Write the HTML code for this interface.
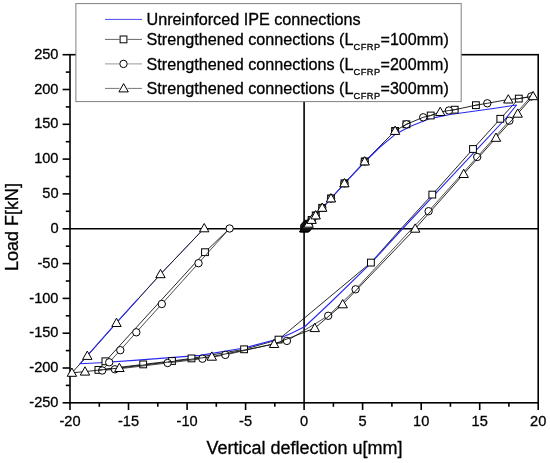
<!DOCTYPE html>
<html><head><meta charset="utf-8"><title>Load-deflection hysteresis</title>
<style>html,body{margin:0;padding:0;background:#fff}body{width:550px;height:463px;overflow:hidden}svg{display:block}text{font-family:"Liberation Sans",sans-serif;fill:#000;stroke:#000;stroke-width:0.3px}</style></head><body>
<svg width="550" height="463" viewBox="0 0 550 463">
<rect width="550" height="463" fill="#fff"/>
<g stroke="#000" stroke-width="1.6" fill="none">
<rect x="70.0" y="54.7" width="468.2" height="348.1"/>
<line x1="70.0" y1="228.8" x2="538.2" y2="228.8"/>
<line x1="304.1" y1="54.7" x2="304.1" y2="402.8"/>
<line x1="62.6" y1="54.7" x2="70.0" y2="54.7"/>
<line x1="65.8" y1="72.1" x2="70.0" y2="72.1"/>
<line x1="62.6" y1="89.5" x2="70.0" y2="89.5"/>
<line x1="65.8" y1="106.9" x2="70.0" y2="106.9"/>
<line x1="62.6" y1="124.3" x2="70.0" y2="124.3"/>
<line x1="65.8" y1="141.7" x2="70.0" y2="141.7"/>
<line x1="62.6" y1="159.1" x2="70.0" y2="159.1"/>
<line x1="65.8" y1="176.5" x2="70.0" y2="176.5"/>
<line x1="62.6" y1="193.9" x2="70.0" y2="193.9"/>
<line x1="65.8" y1="211.3" x2="70.0" y2="211.3"/>
<line x1="62.6" y1="228.8" x2="70.0" y2="228.8"/>
<line x1="65.8" y1="246.2" x2="70.0" y2="246.2"/>
<line x1="62.6" y1="263.6" x2="70.0" y2="263.6"/>
<line x1="65.8" y1="281.0" x2="70.0" y2="281.0"/>
<line x1="62.6" y1="298.4" x2="70.0" y2="298.4"/>
<line x1="65.8" y1="315.8" x2="70.0" y2="315.8"/>
<line x1="62.6" y1="333.2" x2="70.0" y2="333.2"/>
<line x1="65.8" y1="350.6" x2="70.0" y2="350.6"/>
<line x1="62.6" y1="368.0" x2="70.0" y2="368.0"/>
<line x1="65.8" y1="385.4" x2="70.0" y2="385.4"/>
<line x1="62.6" y1="402.8" x2="70.0" y2="402.8"/>
<line x1="70.0" y1="402.8" x2="70.0" y2="410.0"/>
<line x1="99.3" y1="402.8" x2="99.3" y2="406.8"/>
<line x1="128.5" y1="402.8" x2="128.5" y2="410.0"/>
<line x1="157.8" y1="402.8" x2="157.8" y2="406.8"/>
<line x1="187.1" y1="402.8" x2="187.1" y2="410.0"/>
<line x1="216.3" y1="402.8" x2="216.3" y2="406.8"/>
<line x1="245.6" y1="402.8" x2="245.6" y2="410.0"/>
<line x1="274.8" y1="402.8" x2="274.8" y2="406.8"/>
<line x1="304.1" y1="402.8" x2="304.1" y2="410.0"/>
<line x1="333.4" y1="402.8" x2="333.4" y2="406.8"/>
<line x1="362.6" y1="402.8" x2="362.6" y2="410.0"/>
<line x1="391.9" y1="402.8" x2="391.9" y2="406.8"/>
<line x1="421.2" y1="402.8" x2="421.2" y2="410.0"/>
<line x1="450.4" y1="402.8" x2="450.4" y2="406.8"/>
<line x1="479.7" y1="402.8" x2="479.7" y2="410.0"/>
<line x1="508.9" y1="402.8" x2="508.9" y2="406.8"/>
<line x1="538.2" y1="402.8" x2="538.2" y2="410.0"/>
</g>
<g fill="none" stroke-linejoin="round">
<polyline points="138.0,298.9 160.5,274.2 204.2,228.3" stroke="#3030e0" stroke-width="0.75"/>
<polyline points="304.2,228.5 305.0,227.6 305.8,226.7 306.6,225.8 307.5,224.8 308.6,223.7 311.6,219.9 315.7,215.4 322.2,207.8 331.0,198.4 344.4,183.3 364.7,161.4 395.1,130.9 406.4,124.3 423.2,117.3 430.7,115.5 440.2,112.0 448.9,110.5 454.7,109.7 475.9,105.2 487.3,103.3 508.3,99.5 518.8,98.6 500.3,118.8 473.0,149.0 432.3,194.6 401.0,228.7 370.9,262.6 278.5,339.6 244.1,349.3 191.5,358.4 172.0,361.0 143.2,364.4 98.4,369.9 105.4,361.3 205.0,252.2 229.6,228.5" stroke="#111" stroke-width="0.9"/>
<polyline points="518.8,98.6 531.2,96.4 509.4,120.7 477.2,157.0 428.6,211.2 412.0,228.7 355.6,289.3 328.2,315.8 286.9,340.9 225.3,354.9 202.4,358.7 167.6,363.0 114.9,369.3 102.2,370.5 109.2,362.3 120.3,350.2 136.3,332.3 161.8,304.0 198.5,263.2 229.6,228.5" stroke="#3a3a3a" stroke-width="0.9"/>
<polyline points="518.8,98.6 533.1,96.2 517.7,113.7 496.0,137.8 463.7,174.0 415.2,228.7 342.7,304.3 314.8,328.1 274.1,344.0 211.8,356.7 119.4,368.0 85.0,371.6 71.9,372.8 87.3,355.9 116.5,323.0 160.5,274.2 204.2,228.3" stroke="#111" stroke-width="0.9"/>
<polyline points="304.2,228.5 308.6,223.9 315.7,215.6 331.0,198.6 344.4,183.6 364.7,162.0 380.0,147.0 395.0,134.6 410.0,126.5 430.0,118.6 450.0,114.5 470.0,111.8 495.0,108.2 516.6,105.0 505.3,119.0 477.2,149.2 434.4,194.9 402.3,229.0 371.5,262.6 330.0,303.0 305.0,326.5 292.0,333.0 278.0,339.0 244.0,348.0 200.0,355.4 134.0,360.4 100.0,362.8 79.9,363.8 87.5,355.3 116.5,322.7 138.0,298.9" stroke="#2828f0" stroke-width="1.1"/>
</g>
<defs><clipPath id="csq"><rect x="300.3" y="224.6" width="7.8" height="7.8"/><rect x="300.7" y="224.1" width="7.8" height="7.8"/><rect x="301.1" y="223.7" width="7.8" height="7.8"/><rect x="301.5" y="223.2" width="7.8" height="7.8"/><rect x="301.9" y="222.8" width="7.8" height="7.8"/><rect x="302.3" y="222.3" width="7.8" height="7.8"/><rect x="302.7" y="221.9" width="7.8" height="7.8"/><rect x="303.1" y="221.4" width="7.8" height="7.8"/><rect x="303.6" y="220.9" width="7.8" height="7.8"/><rect x="304.7" y="219.8" width="7.8" height="7.8"/><rect x="307.7" y="216.0" width="7.8" height="7.8"/><rect x="311.8" y="211.5" width="7.8" height="7.8"/><rect x="318.3" y="203.9" width="7.8" height="7.8"/><rect x="327.1" y="194.5" width="7.8" height="7.8"/><rect x="340.5" y="179.4" width="7.8" height="7.8"/><rect x="360.8" y="157.5" width="7.8" height="7.8"/><rect x="391.2" y="127.0" width="7.8" height="7.8"/><rect x="402.5" y="120.4" width="7.8" height="7.8"/><rect x="426.8" y="111.6" width="7.8" height="7.8"/><rect x="450.8" y="105.8" width="7.8" height="7.8"/><rect x="472.0" y="101.3" width="7.8" height="7.8"/><rect x="514.9" y="94.7" width="7.8" height="7.8"/><rect x="496.4" y="114.9" width="7.8" height="7.8"/><rect x="469.1" y="145.1" width="7.8" height="7.8"/><rect x="428.4" y="190.7" width="7.8" height="7.8"/><rect x="367.0" y="258.7" width="7.8" height="7.8"/><rect x="274.6" y="335.7" width="7.8" height="7.8"/><rect x="240.2" y="345.4" width="7.8" height="7.8"/><rect x="187.6" y="354.5" width="7.8" height="7.8"/><rect x="168.1" y="357.1" width="7.8" height="7.8"/><rect x="139.3" y="360.5" width="7.8" height="7.8"/><rect x="94.5" y="366.0" width="7.8" height="7.8"/><rect x="101.5" y="357.4" width="7.8" height="7.8"/><rect x="201.1" y="248.3" width="7.8" height="7.8"/></clipPath><clipPath id="cci"><circle cx="304.2" cy="228.5" r="4.2"/><circle cx="304.6" cy="228.0" r="4.2"/><circle cx="305.0" cy="227.6" r="4.2"/><circle cx="305.4" cy="227.1" r="4.2"/><circle cx="305.8" cy="226.7" r="4.2"/><circle cx="306.2" cy="226.2" r="4.2"/><circle cx="306.6" cy="225.8" r="4.2"/><circle cx="307.0" cy="225.3" r="4.2"/><circle cx="307.5" cy="224.8" r="4.2"/><circle cx="308.6" cy="223.7" r="4.2"/><circle cx="311.6" cy="219.9" r="4.2"/><circle cx="315.7" cy="215.4" r="4.2"/><circle cx="322.2" cy="207.8" r="4.2"/><circle cx="331.0" cy="198.4" r="4.2"/><circle cx="344.4" cy="183.3" r="4.2"/><circle cx="364.7" cy="161.4" r="4.2"/><circle cx="395.1" cy="130.9" r="4.2"/><circle cx="406.4" cy="124.3" r="4.2"/><circle cx="423.2" cy="117.3" r="4.2"/><circle cx="448.9" cy="110.5" r="4.2"/><circle cx="487.3" cy="103.3" r="4.2"/><circle cx="531.2" cy="96.4" r="4.2"/><circle cx="509.4" cy="120.7" r="4.2"/><circle cx="477.2" cy="157.0" r="4.2"/><circle cx="428.6" cy="211.2" r="4.2"/><circle cx="355.6" cy="289.3" r="4.2"/><circle cx="328.2" cy="315.8" r="4.2"/><circle cx="286.9" cy="340.9" r="4.2"/><circle cx="225.3" cy="354.9" r="4.2"/><circle cx="202.4" cy="358.7" r="4.2"/><circle cx="167.6" cy="363.0" r="4.2"/><circle cx="114.9" cy="369.3" r="4.2"/><circle cx="102.2" cy="370.5" r="4.2"/><circle cx="109.2" cy="362.3" r="4.2"/><circle cx="120.3" cy="350.2" r="4.2"/><circle cx="136.3" cy="332.3" r="4.2"/><circle cx="161.8" cy="304.0" r="4.2"/><circle cx="198.5" cy="263.2" r="4.2"/><circle cx="229.6" cy="228.5" r="4.2"/></clipPath></defs>
<g fill="#fff" stroke="#000" stroke-width="1">
<rect x="300.8" y="225.1" width="6.8" height="6.8"/>
<rect x="301.2" y="224.6" width="6.8" height="6.8"/>
<rect x="301.6" y="224.2" width="6.8" height="6.8"/>
<rect x="302.0" y="223.7" width="6.8" height="6.8"/>
<rect x="302.4" y="223.3" width="6.8" height="6.8"/>
<rect x="302.8" y="222.8" width="6.8" height="6.8"/>
<rect x="303.2" y="222.4" width="6.8" height="6.8"/>
<rect x="303.6" y="221.9" width="6.8" height="6.8"/>
<rect x="304.1" y="221.4" width="6.8" height="6.8"/>
<rect x="305.2" y="220.3" width="6.8" height="6.8"/>
<rect x="308.2" y="216.5" width="6.8" height="6.8"/>
<rect x="312.3" y="212.0" width="6.8" height="6.8"/>
<rect x="318.8" y="204.4" width="6.8" height="6.8"/>
<rect x="327.6" y="195.0" width="6.8" height="6.8"/>
<rect x="341.0" y="179.9" width="6.8" height="6.8"/>
<rect x="361.3" y="158.0" width="6.8" height="6.8"/>
<rect x="391.7" y="127.5" width="6.8" height="6.8"/>
<rect x="403.0" y="120.9" width="6.8" height="6.8"/>
<rect x="427.3" y="112.1" width="6.8" height="6.8"/>
<rect x="451.3" y="106.3" width="6.8" height="6.8"/>
<rect x="472.5" y="101.8" width="6.8" height="6.8"/>
<rect x="515.4" y="95.2" width="6.8" height="6.8"/>
<rect x="496.9" y="115.4" width="6.8" height="6.8"/>
<rect x="469.6" y="145.6" width="6.8" height="6.8"/>
<rect x="428.9" y="191.2" width="6.8" height="6.8"/>
<rect x="367.5" y="259.2" width="6.8" height="6.8"/>
<rect x="275.1" y="336.2" width="6.8" height="6.8"/>
<rect x="240.7" y="345.9" width="6.8" height="6.8"/>
<rect x="188.1" y="355.0" width="6.8" height="6.8"/>
<rect x="168.6" y="357.6" width="6.8" height="6.8"/>
<rect x="139.8" y="361.0" width="6.8" height="6.8"/>
<rect x="95.0" y="366.5" width="6.8" height="6.8"/>
<rect x="102.0" y="357.9" width="6.8" height="6.8"/>
<rect x="201.6" y="248.8" width="6.8" height="6.8"/>
</g>
<polyline points="304.2,228.5 305.0,227.6 305.8,226.7 306.6,225.8 307.5,224.8 308.6,223.7 311.6,219.9 315.7,215.4 322.2,207.8 331.0,198.4 344.4,183.3 364.7,161.4 395.1,130.9 406.4,124.3 423.2,117.3 430.7,115.5 440.2,112.0 448.9,110.5 454.7,109.7 475.9,105.2 487.3,103.3 508.3,99.5 518.8,98.6 531.2,96.4 509.4,120.7 477.2,157.0 428.6,211.2 412.0,228.7 355.6,289.3 328.2,315.8 286.9,340.9 225.3,354.9 202.4,358.7 167.6,363.0 114.9,369.3 102.2,370.5 109.2,362.3 120.3,350.2 136.3,332.3 161.8,304.0 198.5,263.2 229.6,228.5" fill="none" stroke="#3a3a3a" stroke-width="0.9" clip-path="url(#csq)"/>
<g fill="#fff" stroke="#000" stroke-width="1">
<circle cx="304.2" cy="228.5" r="3.7"/>
<circle cx="304.6" cy="228.0" r="3.7"/>
<circle cx="305.0" cy="227.6" r="3.7"/>
<circle cx="305.4" cy="227.1" r="3.7"/>
<circle cx="305.8" cy="226.7" r="3.7"/>
<circle cx="306.2" cy="226.2" r="3.7"/>
<circle cx="306.6" cy="225.8" r="3.7"/>
<circle cx="307.0" cy="225.3" r="3.7"/>
<circle cx="307.5" cy="224.8" r="3.7"/>
<circle cx="308.6" cy="223.7" r="3.7"/>
<circle cx="311.6" cy="219.9" r="3.7"/>
<circle cx="315.7" cy="215.4" r="3.7"/>
<circle cx="322.2" cy="207.8" r="3.7"/>
<circle cx="331.0" cy="198.4" r="3.7"/>
<circle cx="344.4" cy="183.3" r="3.7"/>
<circle cx="364.7" cy="161.4" r="3.7"/>
<circle cx="395.1" cy="130.9" r="3.7"/>
<circle cx="406.4" cy="124.3" r="3.7"/>
<circle cx="423.2" cy="117.3" r="3.7"/>
<circle cx="448.9" cy="110.5" r="3.7"/>
<circle cx="487.3" cy="103.3" r="3.7"/>
<circle cx="531.2" cy="96.4" r="3.7"/>
<circle cx="509.4" cy="120.7" r="3.7"/>
<circle cx="477.2" cy="157.0" r="3.7"/>
<circle cx="428.6" cy="211.2" r="3.7"/>
<circle cx="355.6" cy="289.3" r="3.7"/>
<circle cx="328.2" cy="315.8" r="3.7"/>
<circle cx="286.9" cy="340.9" r="3.7"/>
<circle cx="225.3" cy="354.9" r="3.7"/>
<circle cx="202.4" cy="358.7" r="3.7"/>
<circle cx="167.6" cy="363.0" r="3.7"/>
<circle cx="114.9" cy="369.3" r="3.7"/>
<circle cx="102.2" cy="370.5" r="3.7"/>
<circle cx="109.2" cy="362.3" r="3.7"/>
<circle cx="120.3" cy="350.2" r="3.7"/>
<circle cx="136.3" cy="332.3" r="3.7"/>
<circle cx="161.8" cy="304.0" r="3.7"/>
<circle cx="198.5" cy="263.2" r="3.7"/>
<circle cx="229.6" cy="228.5" r="3.7"/>
</g>
<polyline points="304.2,228.5 305.0,227.6 305.8,226.7 306.6,225.8 307.5,224.8 308.6,223.7 311.6,219.9 315.7,215.4 322.2,207.8 331.0,198.4 344.4,183.3 364.7,161.4 395.1,130.9 406.4,124.3 423.2,117.3 430.7,115.5 440.2,112.0 448.9,110.5 454.7,109.7 475.9,105.2 487.3,103.3 508.3,99.5 518.8,98.6 533.1,96.2 517.7,113.7 496.0,137.8 463.7,174.0 415.2,228.7 342.7,304.3 314.8,328.1 274.1,344.0 211.8,356.7 119.4,368.0 85.0,371.6 71.9,372.8 87.3,355.9 116.5,323.0 160.5,274.2 204.2,228.3" fill="none" stroke="#111" stroke-width="0.9" clip-path="url(#csq)"/>
<polyline points="304.2,228.5 305.0,227.6 305.8,226.7 306.6,225.8 307.5,224.8 308.6,223.7 311.6,219.9 315.7,215.4 322.2,207.8 331.0,198.4 344.4,183.3 364.7,161.4 395.1,130.9 406.4,124.3 423.2,117.3 430.7,115.5 440.2,112.0 448.9,110.5 454.7,109.7 475.9,105.2 487.3,103.3 508.3,99.5 518.8,98.6 533.1,96.2 517.7,113.7 496.0,137.8 463.7,174.0 415.2,228.7 342.7,304.3 314.8,328.1 274.1,344.0 211.8,356.7 119.4,368.0 85.0,371.6 71.9,372.8 87.3,355.9 116.5,323.0 160.5,274.2 204.2,228.3" fill="none" stroke="#111" stroke-width="0.9" clip-path="url(#cci)"/>
<g fill="#fff" stroke="#000" stroke-width="1">
<polygon points="304.2,223.7 308.9,232.0 299.5,232.0"/>
<polygon points="304.6,223.2 309.3,231.5 299.9,231.5"/>
<polygon points="305.0,222.8 309.7,231.1 300.3,231.1"/>
<polygon points="305.4,222.3 310.1,230.6 300.7,230.6"/>
<polygon points="305.8,221.9 310.5,230.2 301.1,230.2"/>
<polygon points="306.2,221.4 310.9,229.7 301.5,229.7"/>
<polygon points="306.6,221.0 311.3,229.3 301.9,229.3"/>
<polygon points="307.0,220.5 311.7,228.8 302.3,228.8"/>
<polygon points="307.5,220.0 312.2,228.3 302.8,228.3"/>
<polygon points="308.6,218.9 313.3,227.2 303.9,227.2"/>
<polygon points="311.6,215.1 316.3,223.4 306.9,223.4"/>
<polygon points="315.7,210.6 320.4,218.9 311.0,218.9"/>
<polygon points="322.2,203.0 326.9,211.3 317.5,211.3"/>
<polygon points="331.0,193.6 335.7,201.9 326.3,201.9"/>
<polygon points="344.4,178.5 349.1,186.8 339.7,186.8"/>
<polygon points="364.7,156.6 369.4,164.9 360.0,164.9"/>
<polygon points="395.1,126.1 399.8,134.4 390.4,134.4"/>
<polygon points="440.2,107.2 444.9,115.5 435.5,115.5"/>
<polygon points="508.3,94.7 513.0,103.0 503.6,103.0"/>
<polygon points="533.1,91.4 537.8,99.7 528.4,99.7"/>
<polygon points="517.7,108.9 522.4,117.2 513.0,117.2"/>
<polygon points="496.0,133.0 500.7,141.3 491.3,141.3"/>
<polygon points="463.7,169.2 468.4,177.5 459.0,177.5"/>
<polygon points="415.2,223.9 419.9,232.2 410.5,232.2"/>
<polygon points="342.7,299.5 347.4,307.8 338.0,307.8"/>
<polygon points="314.8,323.3 319.5,331.6 310.1,331.6"/>
<polygon points="274.1,339.2 278.8,347.5 269.4,347.5"/>
<polygon points="211.8,351.9 216.5,360.2 207.1,360.2"/>
<polygon points="119.4,363.2 124.1,371.5 114.7,371.5"/>
<polygon points="85.0,366.8 89.7,375.1 80.3,375.1"/>
<polygon points="71.9,368.0 76.6,376.3 67.2,376.3"/>
<polygon points="87.3,351.1 92.0,359.4 82.6,359.4"/>
<polygon points="116.5,318.2 121.2,326.5 111.8,326.5"/>
<polygon points="160.5,269.4 165.2,277.7 155.8,277.7"/>
<polygon points="204.2,223.5 208.9,231.8 199.5,231.8"/>
</g>
<g font-size="14.6">
<text x="58.5" y="58.8" text-anchor="end">250</text>
<text x="58.5" y="93.6" text-anchor="end">200</text>
<text x="58.5" y="128.4" text-anchor="end">150</text>
<text x="58.5" y="163.2" text-anchor="end">100</text>
<text x="58.5" y="198.0" text-anchor="end">50</text>
<text x="58.5" y="232.8" text-anchor="end">0</text>
<text x="58.5" y="267.7" text-anchor="end">-50</text>
<text x="58.5" y="302.5" text-anchor="end">-100</text>
<text x="58.5" y="337.3" text-anchor="end">-150</text>
<text x="58.5" y="372.1" text-anchor="end">-200</text>
<text x="58.5" y="406.9" text-anchor="end">-250</text>
<text x="70.0" y="425.7" text-anchor="middle">-20</text>
<text x="128.5" y="425.7" text-anchor="middle">-15</text>
<text x="187.1" y="425.7" text-anchor="middle">-10</text>
<text x="245.6" y="425.7" text-anchor="middle">-5</text>
<text x="304.1" y="425.7" text-anchor="middle">0</text>
<text x="362.6" y="425.7" text-anchor="middle">5</text>
<text x="421.2" y="425.7" text-anchor="middle">10</text>
<text x="479.7" y="425.7" text-anchor="middle">15</text>
<text x="538.2" y="425.7" text-anchor="middle">20</text>
</g>
<text x="304.5" y="453.8" font-size="18" text-anchor="middle">Vertical deflection u[mm]</text>
<text transform="translate(18.2,227) rotate(-90)" font-size="18" text-anchor="middle">Load F[kN]</text>
<rect x="75.9" y="3.6" width="385.3" height="98" fill="#fff" stroke="#808080" stroke-width="1"/>
<line x1="105" y1="19.4" x2="142" y2="19.4" stroke="#4a4af0" stroke-width="1"/>
<line x1="105" y1="39.4" x2="119.5" y2="39.4" stroke="#666" stroke-width="1"/>
<line x1="127.5" y1="39.4" x2="142" y2="39.4" stroke="#666" stroke-width="1"/>
<line x1="105" y1="63.9" x2="119.5" y2="63.9" stroke="#999" stroke-width="1"/>
<line x1="127.5" y1="63.9" x2="142" y2="63.9" stroke="#999" stroke-width="1"/>
<line x1="105" y1="88.4" x2="119.5" y2="88.4" stroke="#777" stroke-width="1"/>
<line x1="127.5" y1="88.4" x2="142" y2="88.4" stroke="#777" stroke-width="1"/>
<g fill="#fff" stroke="#000" stroke-width="1">
<rect x="120.1" y="36.0" width="6.8" height="6.8"/>
<circle cx="123.5" cy="63.9" r="3.7"/>
<polygon points="123.6,83.6 128.3,91.9 118.9,91.9"/>
</g>
<g font-size="16.2">
<text x="146.5" y="24.8">Unreinforced IPE connections</text>
<text x="146.5" y="44.8">Strengthened connections (L<tspan font-size="9.3" letter-spacing="0.45" dy="5.1">CFRP</tspan><tspan dy="-5.1" font-size="16.05">=100mm)</tspan></text>
<text x="146.5" y="69.7">Strengthened connections (L<tspan font-size="9.3" letter-spacing="0.45" dy="5.1">CFRP</tspan><tspan dy="-5.1" font-size="16.05">=200mm)</tspan></text>
<text x="146.5" y="94.2">Strengthened connections (L<tspan font-size="9.3" letter-spacing="0.45" dy="5.1">CFRP</tspan><tspan dy="-5.1" font-size="16.05">=300mm)</tspan></text>
</g>
</svg></body></html>
